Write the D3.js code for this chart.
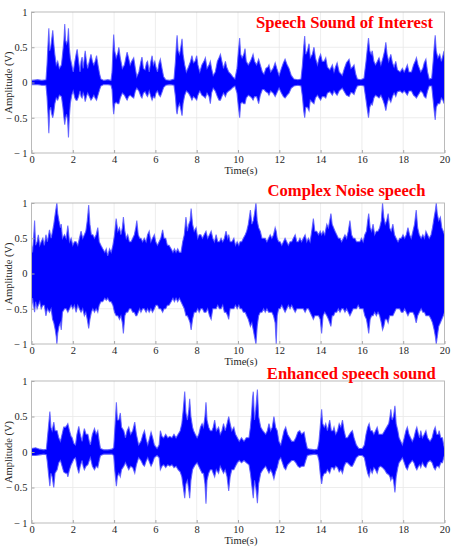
<!DOCTYPE html>
<html><head><meta charset="utf-8">
<script src="https://cdn.jsdelivr.net/npm/d3@7"></script>
<style>body{margin:0;background:#fff}svg{display:block}</style>
</head><body>
<script>
// ---- data: waveform envelopes [time (s), upper amplitude (V), lower amplitude (V)] ----
const titles = ["Speech Sound of Interest", "Complex Noise speech", "Enhanced speech sound"];
const xTicks = [0,2,4,6,8,10,12,14,16,18,20];
const yTicks = [-1,-0.5,0,0.5,1];
const xLabel = "Time(s)";
const yLabel = "Amplitude (V)";

const speechWave = [[0,0.03,-0.03],[0.3,0.04,-0.03],[0.5,0.03,-0.04],[0.7,0.04,-0.04],
[0.75,0.25,-0.2],[0.8,0.55,-0.45],[0.84,0.77,-0.72],[0.88,0.45,-0.4],[0.93,0.5,-0.35],[0.98,0.62,-0.45],[1.03,0.74,-0.5],[1.08,0.55,-0.42],[1.13,0.4,-0.3],[1.2,0.25,-0.22],[1.27,0.3,-0.25],[1.35,0.2,-0.18],[1.45,0.25,-0.2],[1.52,0.45,-0.35],[1.57,0.6,-0.5],[1.61,0.83,-0.6],[1.65,0.6,-0.5],[1.7,0.55,-0.45],[1.75,0.6,-0.55],[1.79,0.77,-0.78],[1.83,0.5,-0.5],[1.88,0.35,-0.3],[1.95,0.25,-0.18],[2.02,0.15,-0.12],[2.1,0.3,-0.22],[2.16,0.4,-0.25],[2.21,0.47,-0.25],[2.28,0.3,-0.2],[2.35,0.15,-0.12],[2.4,0.3,-0.2],[2.45,0.36,-0.22],[2.5,0.2,-0.15],[2.56,0.35,-0.2],[2.6,0.45,-0.27],[2.66,0.3,-0.2],[2.72,0.2,-0.15],[2.8,0.3,-0.2],[2.88,0.4,-0.25],[2.95,0.3,-0.22],[3.02,0.25,-0.18],[3.08,0.3,-0.22],[3.15,0.38,-0.25],[3.22,0.25,-0.18],[3.3,0.12,-0.1],[3.36,0.05,-0.05],[3.5,0.03,-0.03],[3.7,0.04,-0.03],[3.85,0.03,-0.04],[3.9,0.15,-0.1],
[3.95,0.5,-0.35],[3.98,0.68,-0.45],[4.03,0.45,-0.3],[4.1,0.35,-0.28],[4.18,0.42,-0.3],[4.23,0.5,-0.3],[4.3,0.35,-0.22],[4.4,0.2,-0.15],[4.5,0.25,-0.18],[4.57,0.35,-0.22],[4.63,0.43,-0.25],[4.7,0.35,-0.2],[4.78,0.25,-0.18],[4.85,0.3,-0.2],[4.95,0.35,-0.22],[5.03,0.2,-0.12],[5.1,0.08,-0.08],[5.2,0.15,-0.12],[5.3,0.3,-0.2],[5.35,0.36,-0.22],[5.42,0.2,-0.15],[5.5,0.18,-0.13],[5.57,0.28,-0.18],[5.62,0.3,-0.2],[5.7,0.15,-0.12],[5.78,0.3,-0.2],[5.84,0.38,-0.25],[5.9,0.25,-0.2],[5.97,0.3,-0.22],[6.03,0.22,-0.15],[6.1,0.15,-0.12],[6.18,0.28,-0.18],[6.24,0.33,-0.2],[6.32,0.2,-0.14],[6.4,0.08,-0.07],[6.5,0.04,-0.04],[6.7,0.03,-0.03],[6.9,0.05,-0.04],[6.97,0.3,-0.2],
[7.02,0.55,-0.4],[7.05,0.67,-0.45],[7.1,0.45,-0.35],[7.17,0.4,-0.3],[7.23,0.5,-0.38],[7.29,0.62,-0.47],[7.34,0.4,-0.3],[7.42,0.25,-0.18],[7.5,0.15,-0.12],[7.6,0.22,-0.15],[7.7,0.3,-0.2],[7.77,0.38,-0.25],[7.84,0.28,-0.2],[7.92,0.3,-0.22],[8.0,0.38,-0.25],[8.06,0.25,-0.18],[8.15,0.15,-0.12],[8.25,0.25,-0.18],[8.35,0.3,-0.2],[8.42,0.35,-0.22],[8.5,0.2,-0.15],[8.6,0.25,-0.2],[8.66,0.3,-0.3],[8.72,0.2,-0.15],[8.8,0.1,-0.08],[8.9,0.15,-0.12],[9.0,0.3,-0.2],[9.08,0.35,-0.25],[9.15,0.4,-0.25],[9.22,0.3,-0.2],[9.3,0.2,-0.15],[9.39,0.3,-0.2],[9.45,0.22,-0.15],[9.55,0.15,-0.12],[9.65,0.12,-0.1],[9.75,0.08,-0.07],[9.85,0.05,-0.05],[9.95,0.2,-0.15],
[10.02,0.45,-0.35],[10.08,0.63,-0.5],[10.13,0.4,-0.3],[10.2,0.35,-0.28],[10.28,0.4,-0.3],[10.34,0.48,-0.3],[10.4,0.3,-0.22],[10.5,0.25,-0.18],[10.6,0.3,-0.2],[10.67,0.35,-0.22],[10.73,0.4,-0.25],[10.8,0.3,-0.2],[10.9,0.25,-0.2],[11.0,0.33,-0.3],[11.08,0.25,-0.18],[11.18,0.15,-0.1],[11.26,0.12,-0.1],[11.35,0.2,-0.13],[11.45,0.22,-0.15],[11.5,0.25,-0.18],[11.58,0.15,-0.12],[11.7,0.2,-0.15],[11.8,0.28,-0.2],[11.88,0.2,-0.15],[11.99,0.1,-0.08],[12.1,0.2,-0.15],[12.2,0.28,-0.2],[12.28,0.33,-0.22],[12.38,0.25,-0.18],[12.47,0.2,-0.15],[12.58,0.1,-0.08],[12.71,0.05,-0.05],[12.9,0.04,-0.04],[13.05,0.05,-0.05],[13.12,0.25,-0.2],
[13.18,0.5,-0.4],[13.23,0.66,-0.5],[13.28,0.4,-0.35],[13.36,0.45,-0.35],[13.44,0.55,-0.4],[13.5,0.35,-0.25],[13.6,0.4,-0.28],[13.68,0.5,-0.3],[13.75,0.35,-0.22],[13.85,0.25,-0.18],[13.93,0.35,-0.22],[14.0,0.4,-0.25],[14.08,0.3,-0.2],[14.17,0.3,-0.2],[14.25,0.35,-0.22],[14.33,0.22,-0.15],[14.45,0.18,-0.13],[14.57,0.25,-0.18],[14.65,0.15,-0.12],[14.72,0.22,-0.15],[14.8,0.28,-0.18],[14.9,0.15,-0.12],[15.05,0.1,-0.08],[15.15,0.2,-0.13],[15.25,0.28,-0.18],[15.38,0.33,-0.2],[15.47,0.2,-0.14],[15.55,0.22,-0.15],[15.62,0.25,-0.17],[15.7,0.12,-0.1],[15.78,0.05,-0.05],[15.95,0.04,-0.04],[16.1,0.06,-0.05],[16.2,0.3,-0.25],
[16.27,0.5,-0.4],[16.32,0.63,-0.5],[16.38,0.45,-0.35],[16.45,0.4,-0.3],[16.5,0.45,-0.32],[16.58,0.3,-0.22],[16.66,0.25,-0.18],[16.75,0.3,-0.2],[16.83,0.35,-0.22],[16.92,0.25,-0.18],[17.02,0.35,-0.25],[17.1,0.45,-0.32],[17.16,0.57,-0.4],[17.22,0.4,-0.3],[17.3,0.3,-0.22],[17.4,0.4,-0.28],[17.48,0.28,-0.2],[17.56,0.22,-0.15],[17.64,0.3,-0.2],[17.72,0.18,-0.13],[17.85,0.15,-0.12],[17.96,0.2,-0.15],[18.05,0.15,-0.12],[18.13,0.2,-0.15],[18.2,0.25,-0.18],[18.28,0.15,-0.12],[18.4,0.15,-0.12],[18.5,0.25,-0.18],[18.58,0.3,-0.2],[18.64,0.35,-0.22],[18.72,0.25,-0.18],[18.85,0.15,-0.12],[18.95,0.2,-0.15],[19.02,0.28,-0.2],[19.1,0.33,-0.22],[19.18,0.15,-0.12],[19.26,0.05,-0.05],[19.38,0.06,-0.05],[19.45,0.3,-0.25],[19.5,0.5,-0.4],[19.55,0.67,-0.53],[19.6,0.45,-0.35],[19.68,0.35,-0.3],[19.77,0.4,-0.3],[19.85,0.3,-0.22],[19.92,0.38,-0.25],[19.98,0.45,-0.3],[20,0.35,-0.25]];

const noisyWave = [[0,0.4,-0.5],[0.05,0.3,-0.35],[0.1,0.5,-0.45],[0.15,0.75,-0.55],[0.2,0.4,-0.4],[0.27,0.45,-0.5],[0.33,0.55,-0.45],[0.4,0.4,-0.4],[0.47,0.45,-0.5],[0.55,0.5,-0.45],[0.62,0.4,-0.45],[0.7,0.55,-0.6],[0.77,0.45,-0.5],[0.87,0.62,-0.55],[0.95,0.5,-0.5],[1.02,0.6,-0.65],[1.08,0.7,-0.7],[1.15,0.85,-0.8],[1.2,0.95,-0.9],[1.23,1.0,-1.0],[1.27,0.85,-0.85],[1.33,0.75,-0.75],[1.4,0.65,-0.7],[1.44,0.7,-0.8],[1.5,0.5,-0.55],[1.6,0.55,-0.5],[1.68,0.5,-0.5],[1.76,0.68,-0.55],[1.84,0.45,-0.5],[1.92,0.5,-0.45],[2.0,0.4,-0.5],[2.08,0.45,-0.45],[2.16,0.45,-0.55],[2.24,0.4,-0.45],[2.32,0.5,-0.5],[2.4,0.6,-0.55],[2.48,0.5,-0.5],[2.56,0.55,-0.6],[2.63,0.6,-0.55],[2.7,0.75,-0.65],[2.77,0.97,-0.78],[2.83,0.7,-0.65],[2.9,0.55,-0.55],[2.97,0.55,-0.5],[3.05,0.5,-0.55],[3.13,0.55,-0.5],[3.21,0.65,-0.55],[3.28,0.45,-0.45],[3.36,0.4,-0.4],[3.45,0.35,-0.4],[3.55,0.3,-0.35],[3.62,0.35,-0.38],[3.69,0.25,-0.35],[3.78,0.35,-0.4],[3.86,0.3,-0.4],[3.94,0.4,-0.45],[4.02,0.55,-0.55],[4.1,0.78,-0.6],[4.18,0.6,-0.6],[4.26,0.65,-0.65],[4.33,0.55,-0.6],[4.4,0.65,-0.7],[4.45,0.8,-0.85],[4.52,0.6,-0.6],[4.59,0.5,-0.55],[4.66,0.55,-0.55],[4.74,0.45,-0.5],[4.82,0.45,-0.5],[4.9,0.5,-0.55],[4.98,0.55,-0.55],[5.05,0.65,-0.6],[5.1,0.75,-0.6],[5.17,0.55,-0.55],[5.24,0.5,-0.5],[5.3,0.5,-0.55],[5.38,0.45,-0.5],[5.46,0.5,-0.5],[5.55,0.45,-0.55],[5.62,0.55,-0.5],[5.7,0.6,-0.55],[5.78,0.45,-0.5],[5.86,0.5,-0.55],[5.95,0.55,-0.5],[6.02,0.45,-0.45],[6.1,0.4,-0.45],[6.18,0.45,-0.5],[6.26,0.5,-0.5],[6.35,0.62,-0.55],[6.42,0.5,-0.5],[6.5,0.5,-0.5],[6.58,0.4,-0.45],[6.66,0.4,-0.45],[6.76,0.35,-0.4],[6.85,0.3,-0.35],[6.92,0.35,-0.4],[7.0,0.3,-0.35],[7.08,0.35,-0.4],[7.16,0.3,-0.35],[7.24,0.3,-0.4],[7.32,0.45,-0.45],[7.4,0.55,-0.5],[7.48,0.8,-0.6],[7.55,0.6,-0.6],[7.62,0.7,-0.65],[7.68,0.75,-0.7],[7.73,0.92,-0.8],[7.8,0.7,-0.65],[7.88,0.6,-0.55],[7.97,0.65,-0.55],[8.05,0.5,-0.5],[8.12,0.55,-0.55],[8.2,0.55,-0.5],[8.28,0.5,-0.5],[8.36,0.55,-0.55],[8.45,0.6,-0.55],[8.53,0.5,-0.5],[8.62,0.55,-0.6],[8.7,0.6,-0.65],[8.78,0.5,-0.5],[8.86,0.45,-0.5],[8.94,0.55,-0.5],[9.02,0.45,-0.45],[9.1,0.45,-0.5],[9.18,0.5,-0.5],[9.26,0.45,-0.45],[9.34,0.5,-0.55],[9.42,0.6,-0.55],[9.5,0.5,-0.6],[9.55,0.55,-0.65],[9.62,0.45,-0.5],[9.7,0.45,-0.5],[9.8,0.5,-0.5],[9.88,0.4,-0.45],[9.96,0.45,-0.5],[10.04,0.4,-0.45],[10.1,0.45,-0.5],[10.18,0.45,-0.5],[10.26,0.5,-0.55],[10.35,0.55,-0.55],[10.42,0.6,-0.6],[10.5,0.7,-0.65],[10.55,0.8,-0.7],[10.6,0.9,-0.75],[10.67,0.7,-0.7],[10.74,0.75,-0.8],[10.8,0.85,-0.9],[10.87,1.0,-1.0],[10.93,0.75,-0.75],[11.0,0.65,-0.6],[11.08,0.6,-0.55],[11.16,0.5,-0.55],[11.24,0.5,-0.5],[11.32,0.5,-0.55],[11.4,0.45,-0.5],[11.48,0.5,-0.55],[11.56,0.55,-0.55],[11.64,0.5,-0.55],[11.72,0.55,-0.6],[11.8,0.65,-0.7],[11.85,0.6,-1.0],[11.9,0.5,-0.6],[11.97,0.45,-0.5],[12.04,0.45,-0.5],[12.12,0.4,-0.45],[12.2,0.45,-0.5],[12.28,0.5,-0.55],[12.36,0.45,-0.5],[12.44,0.4,-0.45],[12.52,0.45,-0.5],[12.6,0.45,-0.45],[12.68,0.5,-0.5],[12.77,0.55,-0.55],[12.85,0.45,-0.5],[12.92,0.45,-0.5],[13.0,0.5,-0.5],[13.08,0.45,-0.5],[13.16,0.5,-0.5],[13.25,0.55,-0.55],[13.33,0.45,-0.5],[13.41,0.5,-0.5],[13.49,0.45,-0.55],[13.57,0.6,-0.6],[13.65,0.78,-0.65],[13.72,0.6,-0.6],[13.81,0.6,-0.6],[13.9,0.55,-0.6],[13.98,0.6,-0.65],[14.05,0.55,-0.85],[14.12,0.6,-0.6],[14.2,0.55,-0.55],[14.3,0.7,-0.6],[14.38,0.65,-0.65],[14.44,0.75,-0.7],[14.5,0.85,-0.75],[14.56,0.7,-0.6],[14.63,0.65,-0.6],[14.7,0.6,-0.55],[14.78,0.55,-0.55],[14.86,0.5,-0.5],[14.94,0.5,-0.55],[15.02,0.45,-0.5],[15.1,0.5,-0.5],[15.18,0.55,-0.55],[15.26,0.5,-0.5],[15.34,0.6,-0.55],[15.42,0.75,-0.6],[15.5,0.55,-0.55],[15.58,0.5,-0.5],[15.66,0.5,-0.5],[15.74,0.45,-0.5],[15.82,0.45,-0.45],[15.9,0.45,-0.5],[15.98,0.5,-0.5],[16.06,0.45,-0.5],[16.14,0.55,-0.6],[16.22,0.6,-0.65],[16.28,0.75,-0.75],[16.33,0.85,-0.85],[16.4,0.65,-0.65],[16.47,0.6,-0.6],[16.54,0.7,-0.6],[16.62,0.55,-0.55],[16.7,0.6,-0.6],[16.78,0.6,-0.55],[16.86,0.65,-0.6],[16.94,0.75,-0.7],[17.0,1.0,-0.8],[17.06,0.8,-0.75],[17.13,0.7,-0.65],[17.2,0.75,-0.65],[17.27,0.85,-0.7],[17.34,0.65,-0.6],[17.42,0.6,-0.6],[17.5,0.7,-0.6],[17.58,0.55,-0.55],[17.66,0.5,-0.5],[17.75,0.45,-0.5],[17.83,0.5,-0.5],[17.91,0.5,-0.55],[17.99,0.55,-0.55],[18.07,0.5,-0.5],[18.15,0.55,-0.55],[18.23,0.65,-0.6],[18.31,0.55,-0.55],[18.39,0.5,-0.55],[18.47,0.6,-0.55],[18.55,0.7,-0.6],[18.63,0.9,-0.7],[18.7,0.65,-0.6],[18.78,0.55,-0.55],[18.87,0.5,-0.5],[18.95,0.55,-0.55],[19.03,0.5,-0.55],[19.1,0.6,-0.6],[19.18,0.55,-0.6],[19.26,0.5,-0.6],[19.35,0.55,-0.65],[19.42,0.65,-0.7],[19.5,0.8,-0.8],[19.56,0.9,-0.9],[19.6,1.0,-1.0],[19.65,0.85,-0.9],[19.72,0.75,-0.75],[19.8,0.8,-0.7],[19.87,0.65,-0.65],[19.94,0.6,-0.6],[20,0.55,-0.55]];

const enhancedWave = [[0,0.05,-0.05],[0.2,0.06,-0.05],[0.4,0.04,-0.04],[0.6,0.03,-0.03],[0.72,0.04,-0.04],[0.77,0.2,-0.15],[0.82,0.35,-0.3],[0.89,0.57,-0.48],[0.94,0.35,-0.3],[1.0,0.3,-0.35],[1.05,0.38,-0.45],[1.08,0.42,-0.5],[1.14,0.3,-0.3],[1.24,0.3,-0.25],[1.32,0.2,-0.15],[1.4,0.15,-0.12],[1.48,0.25,-0.2],[1.56,0.35,-0.28],[1.65,0.35,-0.3],[1.72,0.38,-0.3],[1.76,0.4,-0.35],[1.84,0.3,-0.25],[1.92,0.22,-0.18],[1.97,0.2,-0.15],[2.05,0.12,-0.1],[2.13,0.1,-0.08],[2.2,0.25,-0.2],[2.29,0.36,-0.3],[2.36,0.25,-0.2],[2.45,0.15,-0.12],[2.5,0.25,-0.2],[2.56,0.33,-0.25],[2.64,0.25,-0.2],[2.73,0.25,-0.18],[2.8,0.15,-0.12],[2.85,0.1,-0.08],[2.95,0.25,-0.2],[3.05,0.33,-0.25],[3.13,0.25,-0.2],[3.21,0.3,-0.22],[3.28,0.15,-0.12],[3.34,0.05,-0.05],[3.5,0.03,-0.03],[3.7,0.03,-0.03],[3.9,0.04,-0.03],[3.98,0.06,-0.05],[4.03,0.3,-0.25],[4.08,0.55,-0.4],[4.11,0.7,-0.48],[4.16,0.45,-0.35],[4.23,0.45,-0.3],[4.3,0.55,-0.35],[4.36,0.35,-0.25],[4.47,0.3,-0.2],[4.55,0.2,-0.15],[4.63,0.3,-0.2],[4.71,0.35,-0.25],[4.8,0.25,-0.2],[4.9,0.3,-0.22],[5.0,0.42,-0.3],[5.08,0.25,-0.18],[5.19,0.1,-0.08],[5.3,0.15,-0.12],[5.4,0.25,-0.18],[5.47,0.3,-0.2],[5.55,0.18,-0.13],[5.63,0.1,-0.08],[5.72,0.2,-0.15],[5.79,0.28,-0.2],[5.87,0.2,-0.15],[5.95,0.1,-0.08],[6.08,0.05,-0.05],[6.18,0.1,-0.08],[6.24,0.3,-0.25],[6.32,0.22,-0.2],[6.4,0.2,-0.18],[6.5,0.25,-0.22],[6.6,0.2,-0.18],[6.7,0.22,-0.2],[6.8,0.2,-0.18],[6.9,0.25,-0.22],[7.0,0.2,-0.2],[7.1,0.25,-0.25],[7.2,0.3,-0.28],[7.28,0.4,-0.35],[7.35,0.6,-0.5],[7.42,0.85,-0.65],[7.48,0.55,-0.45],[7.55,0.45,-0.4],[7.62,0.6,-0.55],[7.66,0.75,-0.65],[7.72,0.5,-0.4],[7.8,0.35,-0.25],[7.85,0.3,-0.22],[7.93,0.25,-0.18],[8.02,0.2,-0.15],[8.1,0.25,-0.2],[8.18,0.35,-0.25],[8.26,0.4,-0.3],[8.33,0.35,-0.3],[8.4,0.5,-0.45],[8.45,0.7,-0.73],[8.5,0.45,-0.4],[8.58,0.35,-0.3],[8.66,0.3,-0.25],[8.74,0.3,-0.25],[8.8,0.35,-0.3],[8.87,0.45,-0.35],[8.95,0.3,-0.25],[9.06,0.35,-0.3],[9.14,0.25,-0.2],[9.22,0.3,-0.25],[9.3,0.4,-0.3],[9.38,0.3,-0.25],[9.47,0.4,-0.35],[9.55,0.5,-0.55],[9.62,0.4,-0.35],[9.7,0.3,-0.25],[9.8,0.35,-0.25],[9.88,0.25,-0.2],[9.97,0.2,-0.15],[10.06,0.15,-0.12],[10.17,0.2,-0.15],[10.29,0.15,-0.12],[10.4,0.2,-0.15],[10.53,0.2,-0.18],[10.6,0.35,-0.3],[10.66,0.55,-0.45],[10.7,0.75,-0.55],[10.74,0.85,-0.65],[10.8,0.45,-0.4],[10.86,0.6,-0.5],[10.9,0.75,-0.6],[10.94,0.88,-0.72],[11.0,0.5,-0.45],[11.1,0.35,-0.3],[11.2,0.3,-0.25],[11.34,0.25,-0.2],[11.42,0.3,-0.25],[11.5,0.4,-0.3],[11.58,0.3,-0.25],[11.66,0.35,-0.3],[11.74,0.5,-0.38],[11.82,0.35,-0.28],[11.9,0.3,-0.22],[11.98,0.15,-0.12],[12.07,0.1,-0.08],[12.15,0.2,-0.15],[12.23,0.3,-0.22],[12.31,0.35,-0.25],[12.4,0.25,-0.18],[12.5,0.2,-0.15],[12.6,0.15,-0.12],[12.71,0.15,-0.12],[12.8,0.2,-0.15],[12.9,0.28,-0.2],[12.99,0.3,-0.22],[13.08,0.25,-0.2],[13.2,0.28,-0.2],[13.28,0.15,-0.12],[13.36,0.05,-0.05],[13.5,0.04,-0.04],[13.7,0.03,-0.03],[13.85,0.04,-0.04],[13.92,0.15,-0.12],[13.98,0.35,-0.3],[14.05,0.6,-0.45],[14.1,0.4,-0.35],[14.18,0.35,-0.3],[14.25,0.4,-0.3],[14.33,0.3,-0.25],[14.44,0.45,-0.3],[14.52,0.3,-0.22],[14.6,0.3,-0.22],[14.65,0.35,-0.25],[14.73,0.25,-0.2],[14.82,0.3,-0.22],[14.9,0.4,-0.28],[14.98,0.35,-0.25],[15.06,0.45,-0.3],[15.14,0.3,-0.2],[15.22,0.2,-0.15],[15.3,0.2,-0.15],[15.4,0.25,-0.18],[15.47,0.28,-0.2],[15.54,0.3,-0.2],[15.62,0.2,-0.15],[15.73,0.1,-0.08],[15.85,0.05,-0.05],[16.02,0.05,-0.05],[16.12,0.1,-0.08],[16.2,0.25,-0.2],[16.28,0.35,-0.3],[16.35,0.4,-0.35],[16.42,0.3,-0.25],[16.5,0.3,-0.3],[16.58,0.25,-0.22],[16.66,0.3,-0.25],[16.74,0.35,-0.3],[16.82,0.25,-0.22],[16.9,0.25,-0.2],[17.0,0.25,-0.22],[17.1,0.3,-0.25],[17.2,0.35,-0.3],[17.3,0.4,-0.32],[17.36,0.5,-0.35],[17.4,0.6,-0.4],[17.46,0.45,-0.35],[17.53,0.5,-0.4],[17.6,0.65,-0.57],[17.66,0.4,-0.35],[17.74,0.3,-0.22],[17.8,0.2,-0.15],[17.88,0.15,-0.12],[17.96,0.1,-0.08],[18.05,0.2,-0.15],[18.13,0.3,-0.22],[18.2,0.35,-0.25],[18.28,0.25,-0.18],[18.36,0.2,-0.15],[18.44,0.15,-0.12],[18.52,0.2,-0.15],[18.6,0.3,-0.22],[18.66,0.35,-0.25],[18.74,0.25,-0.2],[18.8,0.2,-0.18],[18.85,0.3,-0.22],[18.93,0.2,-0.15],[19.02,0.25,-0.2],[19.1,0.3,-0.22],[19.18,0.2,-0.15],[19.3,0.15,-0.12],[19.4,0.2,-0.15],[19.48,0.3,-0.22],[19.55,0.35,-0.25],[19.62,0.25,-0.2],[19.7,0.25,-0.2],[19.74,0.3,-0.22],[19.82,0.2,-0.15],[19.9,0.2,-0.15],[19.96,0.1,-0.08],[20,0.05,-0.05]];

// ---- layout ----
const W = 456, H = 550;
const panels = [
  {data: speechWave,   title: titles[0], top: 12,  bottom: 153, tx: 344.5, ty: 27.5,  tw: 177},
  {data: noisyWave,    title: titles[1], top: 203, bottom: 344, tx: 346.5, ty: 195.5, tw: 158},
  {data: enhancedWave, title: titles[2], top: 381, bottom: 523, tx: 351.3, ty: 378.5, tw: 169}
];
const left = 31.5, right = 444.5;
const font = "'Liberation Serif','Times New Roman',serif";

const svg = d3.select("body").append("svg").attr("width", W).attr("height", H);
const x = d3.scaleLinear().domain([0, 20]).range([left, right]);
const fmtY = d => d < 0 ? "\u2212\u2009" + Math.abs(d) : String(d);

panels.forEach((p, i) => {
  const y = d3.scaleLinear().domain([-1, 1]).range([p.bottom, p.top]);
  const g = svg.append("g");
  // grid
  g.append("g").selectAll("line").data(xTicks.slice(1, -1)).join("line")
    .attr("x1", d => x(d)).attr("x2", d => x(d)).attr("y1", p.top).attr("y2", p.bottom)
    .attr("stroke", "#e9e9e9").attr("stroke-width", 0.8);
  g.append("g").selectAll("line").data(yTicks.slice(1, -1)).join("line")
    .attr("y1", d => y(d)).attr("y2", d => y(d)).attr("x1", left).attr("x2", right)
    .attr("stroke", "#e9e9e9").attr("stroke-width", 0.8);
  // waveform
  const area = d3.area().x(d => x(d[0])).y0(d => y(d[2])).y1(d => y(d[1]));
  const clipId = "clip" + i;
  svg.append("clipPath").attr("id", clipId).append("rect")
    .attr("x", left).attr("y", p.top).attr("width", right - left).attr("height", p.bottom - p.top);
  g.append("path").datum(p.data).attr("d", area).attr("clip-path", `url(#${clipId})`)
    .attr("fill", "#0000ff").attr("stroke", "#5c5cff").attr("stroke-width", 1.1)
    .attr("stroke-opacity", 0.85).attr("stroke-linejoin", "miter");
  // axes
  const ax = g.append("g").attr("transform", `translate(0,${p.bottom})`)
    .call(d3.axisBottom(x).tickValues(xTicks).tickSize(-3).tickPadding(3).tickFormat(d3.format("d")));
  const ay = g.append("g").attr("transform", `translate(${left},0)`)
    .call(d3.axisLeft(y).tickValues(yTicks).tickSize(-3).tickPadding(4).tickFormat(fmtY));
  [ax, ay].forEach(a => {
    a.select(".domain").remove();
    a.selectAll(".tick line").attr("stroke", "#a6a6a6");
    a.selectAll("text").attr("font-family", font).attr("font-size", 10.5).attr("fill", "#262626");
  });
  // box
  g.append("rect").attr("x", left).attr("y", p.top).attr("width", right - left).attr("height", p.bottom - p.top)
    .attr("fill", "none").attr("stroke", "#b3b3b3").attr("stroke-width", 0.9);
  // labels
  g.append("text").attr("x", (left + right) / 2 + 3).attr("y", p.bottom + 21)
    .attr("text-anchor", "middle").attr("font-family", font).attr("font-size", 10.5).attr("fill", "#262626")
    .text(xLabel);
  g.append("text").attr("transform", `translate(12,${(p.top + p.bottom) / 2}) rotate(-90)`)
    .attr("text-anchor", "middle").attr("font-family", font).attr("font-size", 10.5).attr("fill", "#262626")
    .text(yLabel);
  // title
  g.append("text").attr("x", p.tx).attr("y", p.ty).attr("text-anchor", "middle")
    .attr("font-family", font).attr("font-weight", "bold").attr("font-size", 17.5).attr("fill", "#ff0000")
    .attr("textLength", p.tw).attr("lengthAdjust", "spacingAndGlyphs")
    .text(p.title);
});
</script>
</body></html>
